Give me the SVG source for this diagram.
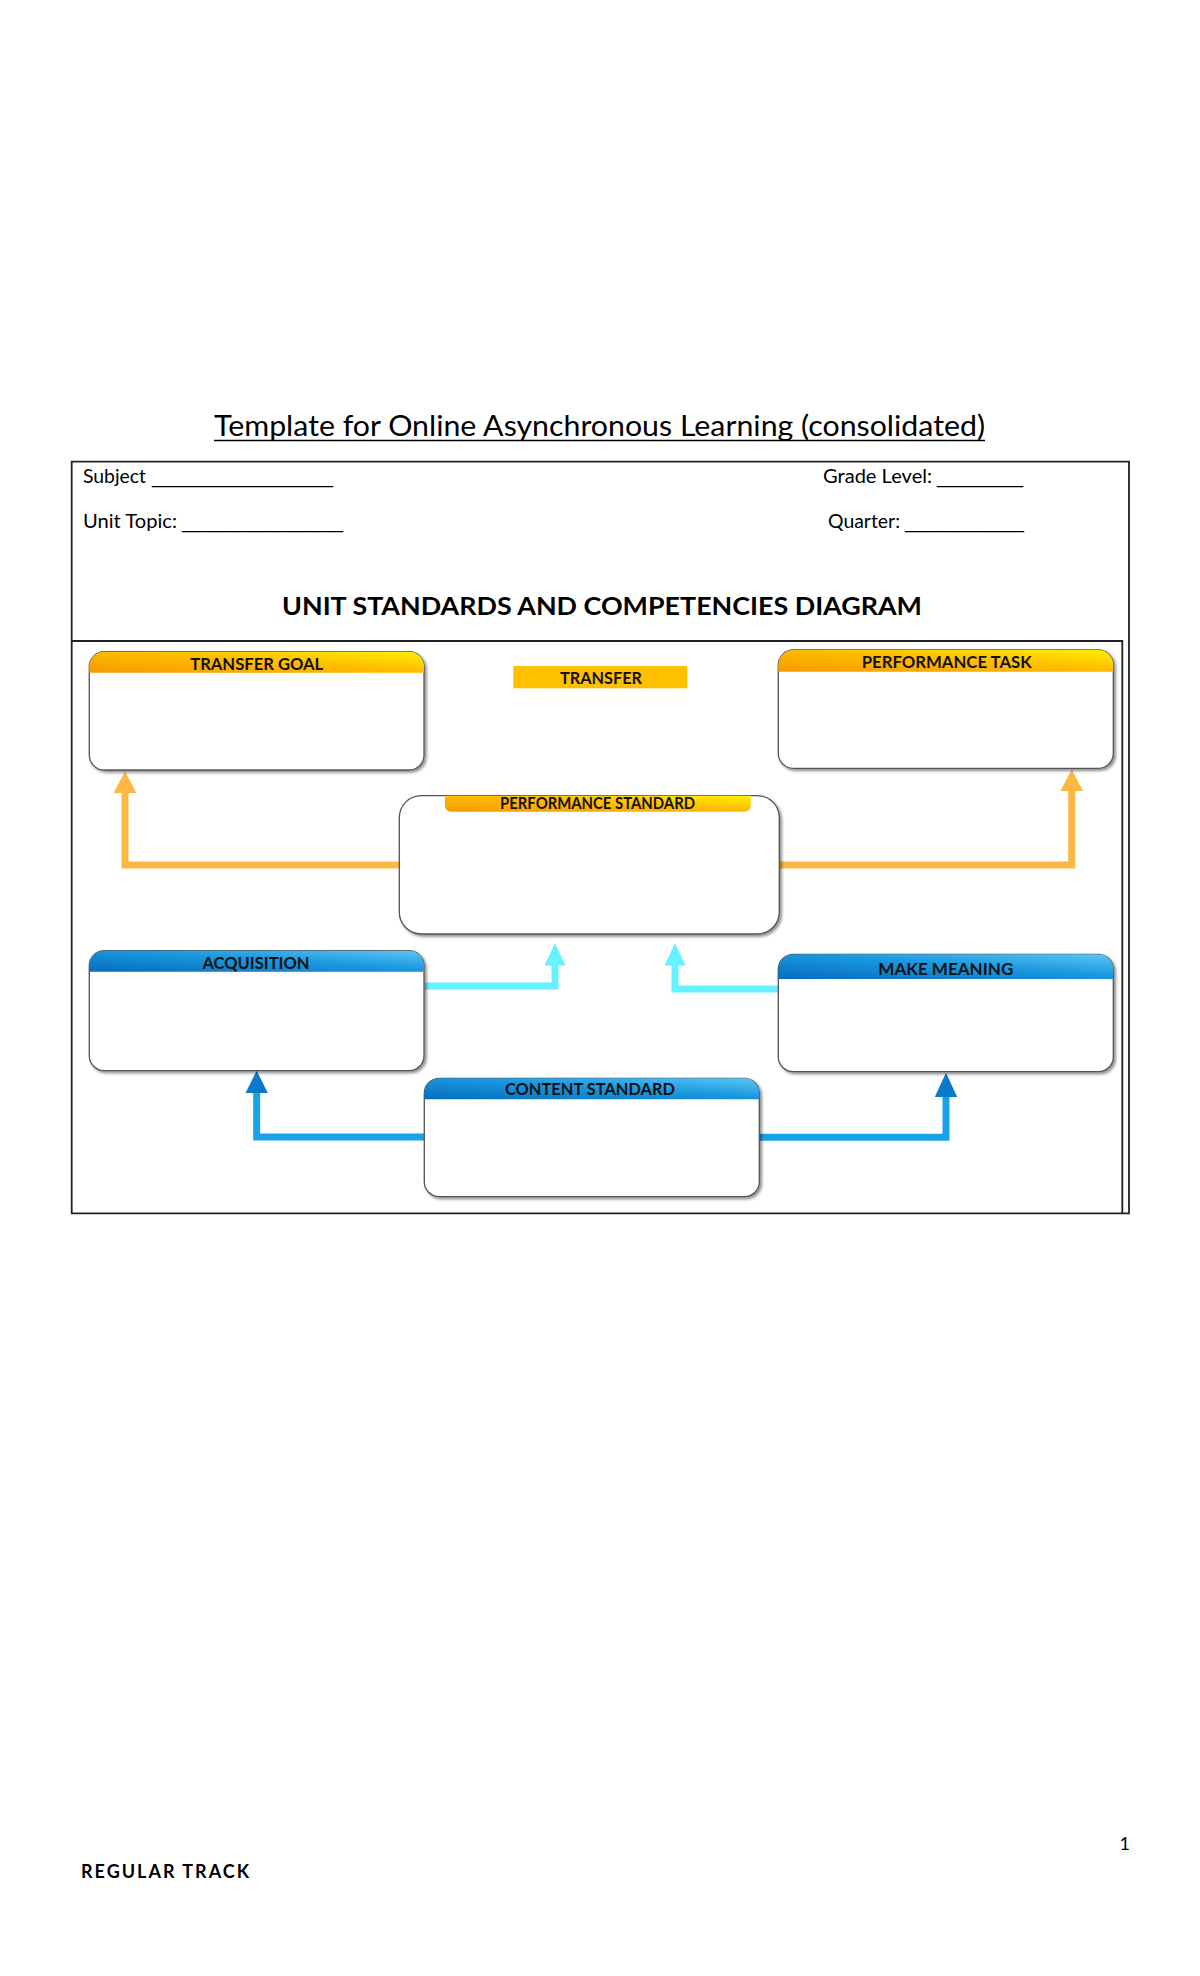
<svg xmlns="http://www.w3.org/2000/svg" width="1200" height="1976" viewBox="0 0 1200 1976">
<defs>
<style>
.t{font-family:Lato,"Liberation Sans",sans-serif;fill:#000}
.lb{font-family:Lato,"Liberation Sans",sans-serif;font-size:19.5px;fill:#000}
.u{font-family:"Liberation Sans",Arial,sans-serif;font-size:18px;fill:#000}
.hd{font-family:Lato,"Liberation Sans",sans-serif;font-weight:bold;font-size:17px;fill:#111;text-anchor:middle}
.box{fill:#fff;stroke:#555;stroke-width:1.3}
.or{fill:none;stroke:#FBB943;stroke-width:7}
.cy{fill:none;stroke:#66F2FF;stroke-width:7}
.bl{fill:none;stroke:#1AA2E8;stroke-width:7}
.frame{fill:none;stroke:#222;stroke-width:1.8}
</style>
<linearGradient id="gOr" x1="0" y1="1" x2="1" y2="0">
<stop offset="0" stop-color="#F59A00"/>
<stop offset="0.55" stop-color="#FFBE00"/>
<stop offset="1" stop-color="#FFF000"/>
</linearGradient>
<linearGradient id="gBl" x1="0" y1="1" x2="1" y2="0">
<stop offset="0" stop-color="#066CBD"/>
<stop offset="0.55" stop-color="#1A98DF"/>
<stop offset="1" stop-color="#5CC6F4"/>
</linearGradient>
<filter id="sh" x="-5%" y="-10%" width="112%" height="125%">
<feDropShadow dx="2" dy="2" stdDeviation="1.6" flood-color="#000" flood-opacity="0.45"/>
</filter>
</defs>
<rect width="1200" height="1976" fill="#fff"/>

<g id="header">
<text class="t" x="214" y="436" font-size="29" textLength="771" lengthAdjust="spacingAndGlyphs">Template for Online Asynchronous Learning (consolidated)</text>
<line x1="214" y1="440.5" x2="985" y2="440.5" stroke="#000" stroke-width="1.6"/>
<text class="lb" x="83" y="483" textLength="63" lengthAdjust="spacingAndGlyphs">Subject</text>
<text class="u" x="152" y="483" textLength="181" lengthAdjust="spacingAndGlyphs">__________________</text>
<text class="lb" x="83" y="528" textLength="94" lengthAdjust="spacingAndGlyphs">Unit Topic:</text>
<text class="u" x="182" y="528" textLength="161" lengthAdjust="spacingAndGlyphs">________________</text>
<text class="lb" x="823" y="483" textLength="109" lengthAdjust="spacingAndGlyphs">Grade Level:</text>
<text class="u" x="937" y="483" textLength="86" lengthAdjust="spacingAndGlyphs">________</text>
<text class="lb" x="828" y="528" textLength="72" lengthAdjust="spacingAndGlyphs">Quarter:</text>
<text class="u" x="905" y="528" textLength="119" lengthAdjust="spacingAndGlyphs">____________</text>
<text class="t" x="282" y="615" font-size="25" font-weight="bold" textLength="640" lengthAdjust="spacingAndGlyphs">UNIT STANDARDS AND COMPETENCIES DIAGRAM</text>
</g>

<g id="frames">
<path class="frame" d="M71.7 461.7 H1129 V1213.3 H71.7 Z"/>
<path class="frame" d="M71.7 641 H1122.3 V1213.3"/>
</g>

<g id="connectors">
<polyline class="or" points="400,865 125,865 125,790"/>
<polygon points="113.5,793 125,771.5 136.5,793" fill="#FBB943"/>
<polyline class="or" points="779,865 1071.7,865 1071.7,789"/>
<polygon points="1060.3,791 1071.7,769.5 1083.1,791" fill="#FBB943"/>
<polyline class="cy" points="425,986 555,986 555,963"/>
<polygon points="544.5,965.5 555,943.3 565.5,965.5" fill="#66F2FF"/>
<polyline class="cy" points="778,989 675,989 675,963"/>
<polygon points="664.5,965.5 675,943.3 685.5,965.5" fill="#66F2FF"/>
<polyline class="bl" points="424,1137 256.7,1137 256.7,1091"/>
<polygon points="245.5,1093 256.7,1070.7 267.9,1093" fill="#0B79CA"/>
<polyline class="bl" points="758,1137.3 946,1137.3 946,1095"/>
<polygon points="934.8,1097 946,1072.7 957.2,1097" fill="#0B79CA"/>
</g>

<g id="transfer-goal">
<rect class="box" x="89.3" y="651.7" width="334.7" height="118.3" rx="15" filter="url(#sh)"/>
<path d="M89.3 672.7 V666.7 A15 15 0 0 1 104.3 651.7 H409 A15 15 0 0 1 424 666.7 V672.7 Z" fill="url(#gOr)"/>
<text class="hd" x="256.7" y="669.5" textLength="133" lengthAdjust="spacingAndGlyphs">TRANSFER GOAL</text>
</g>

<g id="transfer">
<rect x="513.3" y="666" width="174" height="22.3" fill="#FFC000"/>
<text class="hd" x="601" y="684" font-size="16" textLength="82" lengthAdjust="spacingAndGlyphs">TRANSFER</text>
</g>

<g id="performance-task">
<rect class="box" x="778.3" y="650" width="335" height="118.3" rx="15" filter="url(#sh)"/>
<path d="M778.3 671.7 V665 A15 15 0 0 1 793.3 650 H1098.3 A15 15 0 0 1 1113.3 665 V671.7 Z" fill="url(#gOr)"/>
<text class="hd" x="946.7" y="668" textLength="170" lengthAdjust="spacingAndGlyphs">PERFORMANCE TASK</text>
</g>

<g id="performance-standard">
<rect class="box" x="399.3" y="795.7" width="380" height="138.3" rx="22" filter="url(#sh)"/>
<path d="M445 795.7 H750.7 V805.7 A6 6 0 0 1 744.7 811.7 H451 A6 6 0 0 1 445 805.7 Z" fill="url(#gOr)"/>
<text class="hd" x="597.5" y="809" font-size="15" textLength="195" lengthAdjust="spacingAndGlyphs">PERFORMANCE STANDARD</text>
</g>

<g id="acquisition">
<rect class="box" x="89.3" y="950.7" width="334.7" height="120" rx="15" filter="url(#sh)"/>
<path d="M89.3 971.7 V965.7 A15 15 0 0 1 104.3 950.7 H409 A15 15 0 0 1 424 965.7 V971.7 Z" fill="url(#gBl)"/>
<text class="hd" x="256" y="969" textLength="107" lengthAdjust="spacingAndGlyphs">ACQUISITION</text>
</g>

<g id="make-meaning">
<rect class="box" x="778.3" y="954.3" width="335" height="117.4" rx="15" filter="url(#sh)"/>
<path d="M778.3 979 V969.3 A15 15 0 0 1 793.3 954.3 H1098.3 A15 15 0 0 1 1113.3 969.3 V979 Z" fill="url(#gBl)"/>
<text class="hd" x="945.8" y="975" textLength="135" lengthAdjust="spacingAndGlyphs">MAKE MEANING</text>
</g>

<g id="content-standard">
<rect class="box" x="424.3" y="1078.3" width="335" height="118.4" rx="15" filter="url(#sh)"/>
<path d="M424.3 1099.3 V1093.3 A15 15 0 0 1 439.3 1078.3 H744.3 A15 15 0 0 1 759.3 1093.3 V1099.3 Z" fill="url(#gBl)"/>
<text class="hd" x="590" y="1095" textLength="170" lengthAdjust="spacingAndGlyphs">CONTENT STANDARD</text>
</g>

<g id="footer">
<text class="t" x="1130" y="1850" font-size="18" text-anchor="end">1</text>
<text class="t" x="81" y="1878" font-size="18" font-weight="bold" textLength="168" lengthAdjust="spacing">REGULAR  TRACK</text>
</g>
</svg>
